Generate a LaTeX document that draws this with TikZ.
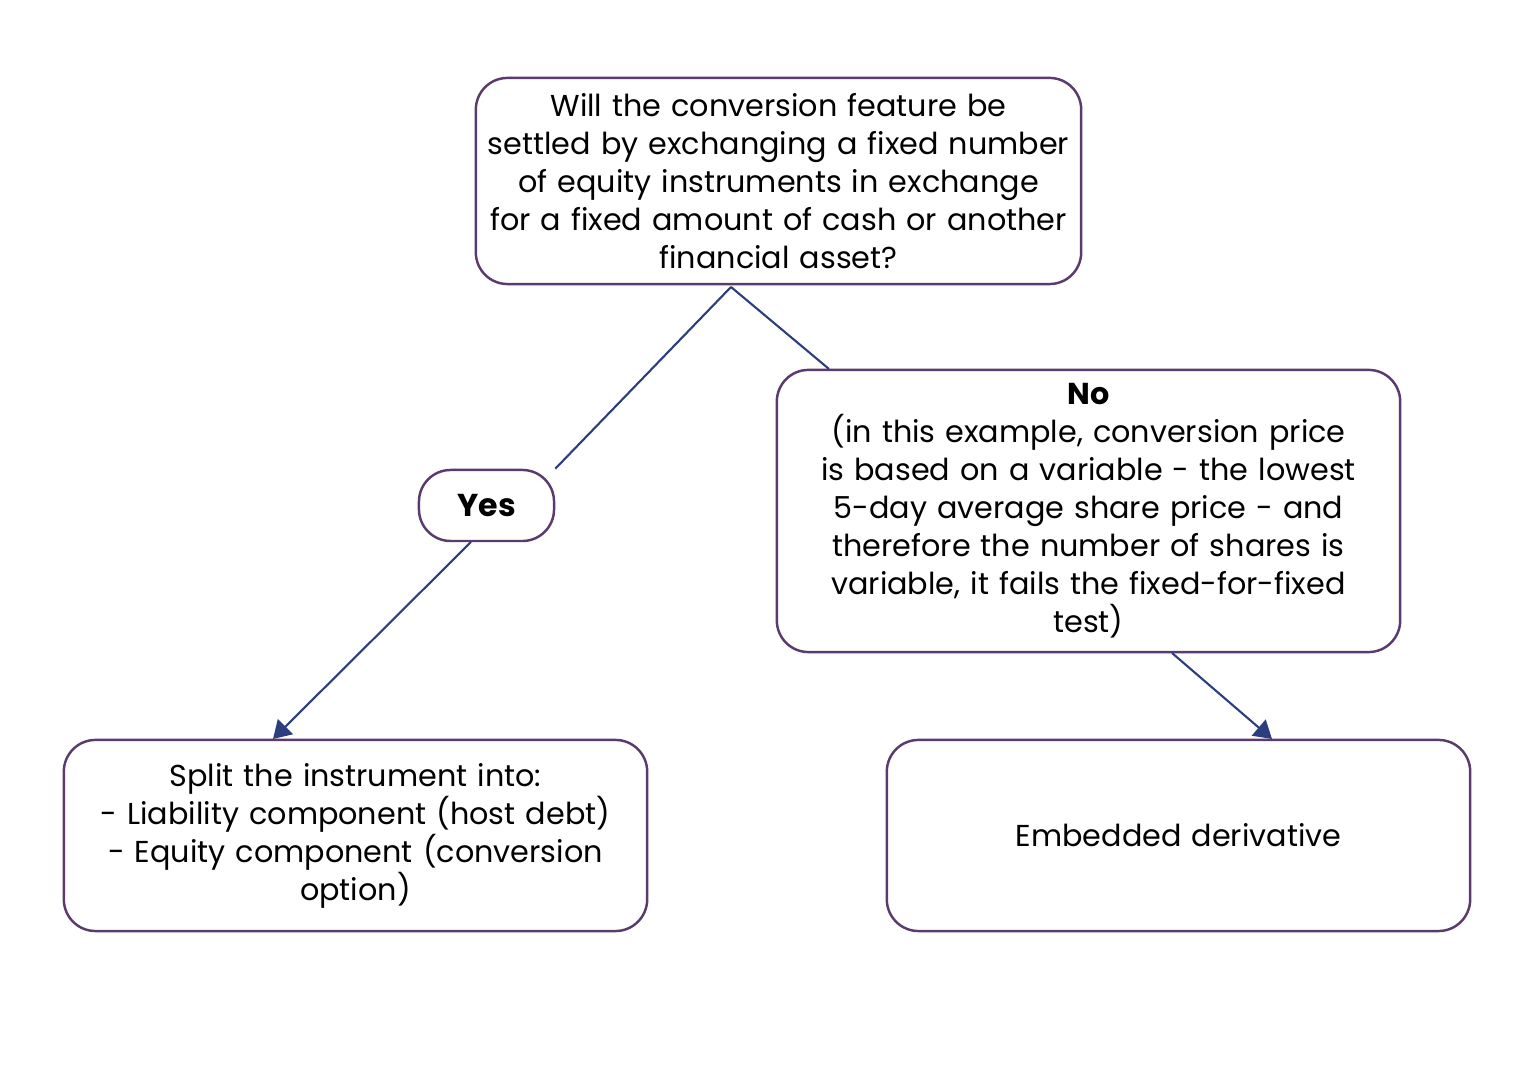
\documentclass[tikz,border=0pt]{standalone}
\usepackage{fontspec}
\setmainfont{Poppins}
\usetikzlibrary{arrows.meta}
\definecolor{boxline}{HTML}{5B3A6E}
\definecolor{linkline}{HTML}{2B3F7E}
\tikzset{
  qbox/.style={draw=boxline, rounded corners=9pt, line width=0.7pt, align=center,
    font=\fontsize{8.6}{10.8}\selectfont, inner sep=0pt},
  link/.style={draw=linkline, line width=0.6pt},
  tip/.style={-{Triangle[length=5pt,width=6pt]}, linkline}
}
\begin{document}
\begin{tikzpicture}[x=0.01cm,y=-0.01cm]
\useasboundingbox (0,0) rectangle (1536,1086);
\node[qbox, minimum width=605\pgflinewidth*0+6.05cm, minimum height=2.06cm, text width=5.85cm] (question) at (778.5,181)
  {Will the conversion feature be\\settled by exchanging a fixed number\\of equity instruments in exchange\\for a fixed amount of cash or another\\financial asset?};
\node[qbox, minimum width=1.35cm, minimum height=0.71cm, font=\fontsize{9}{10.8}\selectfont\bfseries] (yes) at (486.5,505.5) {Yes};
\node[qbox, minimum width=6.23cm, minimum height=2.82cm, text width=6.0cm] (no) at (1088.5,511)
  {\textbf{No}\\(in this example, conversion price\\is based on a variable - the lowest\\5-day average share price - and\\therefore the number of shares is\\variable, it fails the fixed-for-fixed\\test)};
\node[qbox, minimum width=5.83cm, minimum height=1.91cm, text width=5.7cm] (split) at (355.5,835.5)
  {Split the instrument into:\\- Liability component (host debt)\\- Equity component (conversion\\option)};
\node[qbox, minimum width=5.83cm, minimum height=1.91cm, text width=5.7cm] (embedded) at (1178.5,835.5)
  {Embedded derivative};
% connectors
\coordinate (fork) at (731,287);
\coordinate (yesout) at (471,542);
\coordinate (noin) at (829,369);
\coordinate (noout) at (1172,653);
\coordinate (splitin) at (273,739);
\coordinate (embin) at (1272,739);
\draw[link] (fork) -- (yes.north east);
\draw[link] (fork) -- (noin);
\draw[link, tip] (yesout) -- (splitin);
\draw[link, tip] (noout) -- (embin);
\end{tikzpicture}
\end{document}
